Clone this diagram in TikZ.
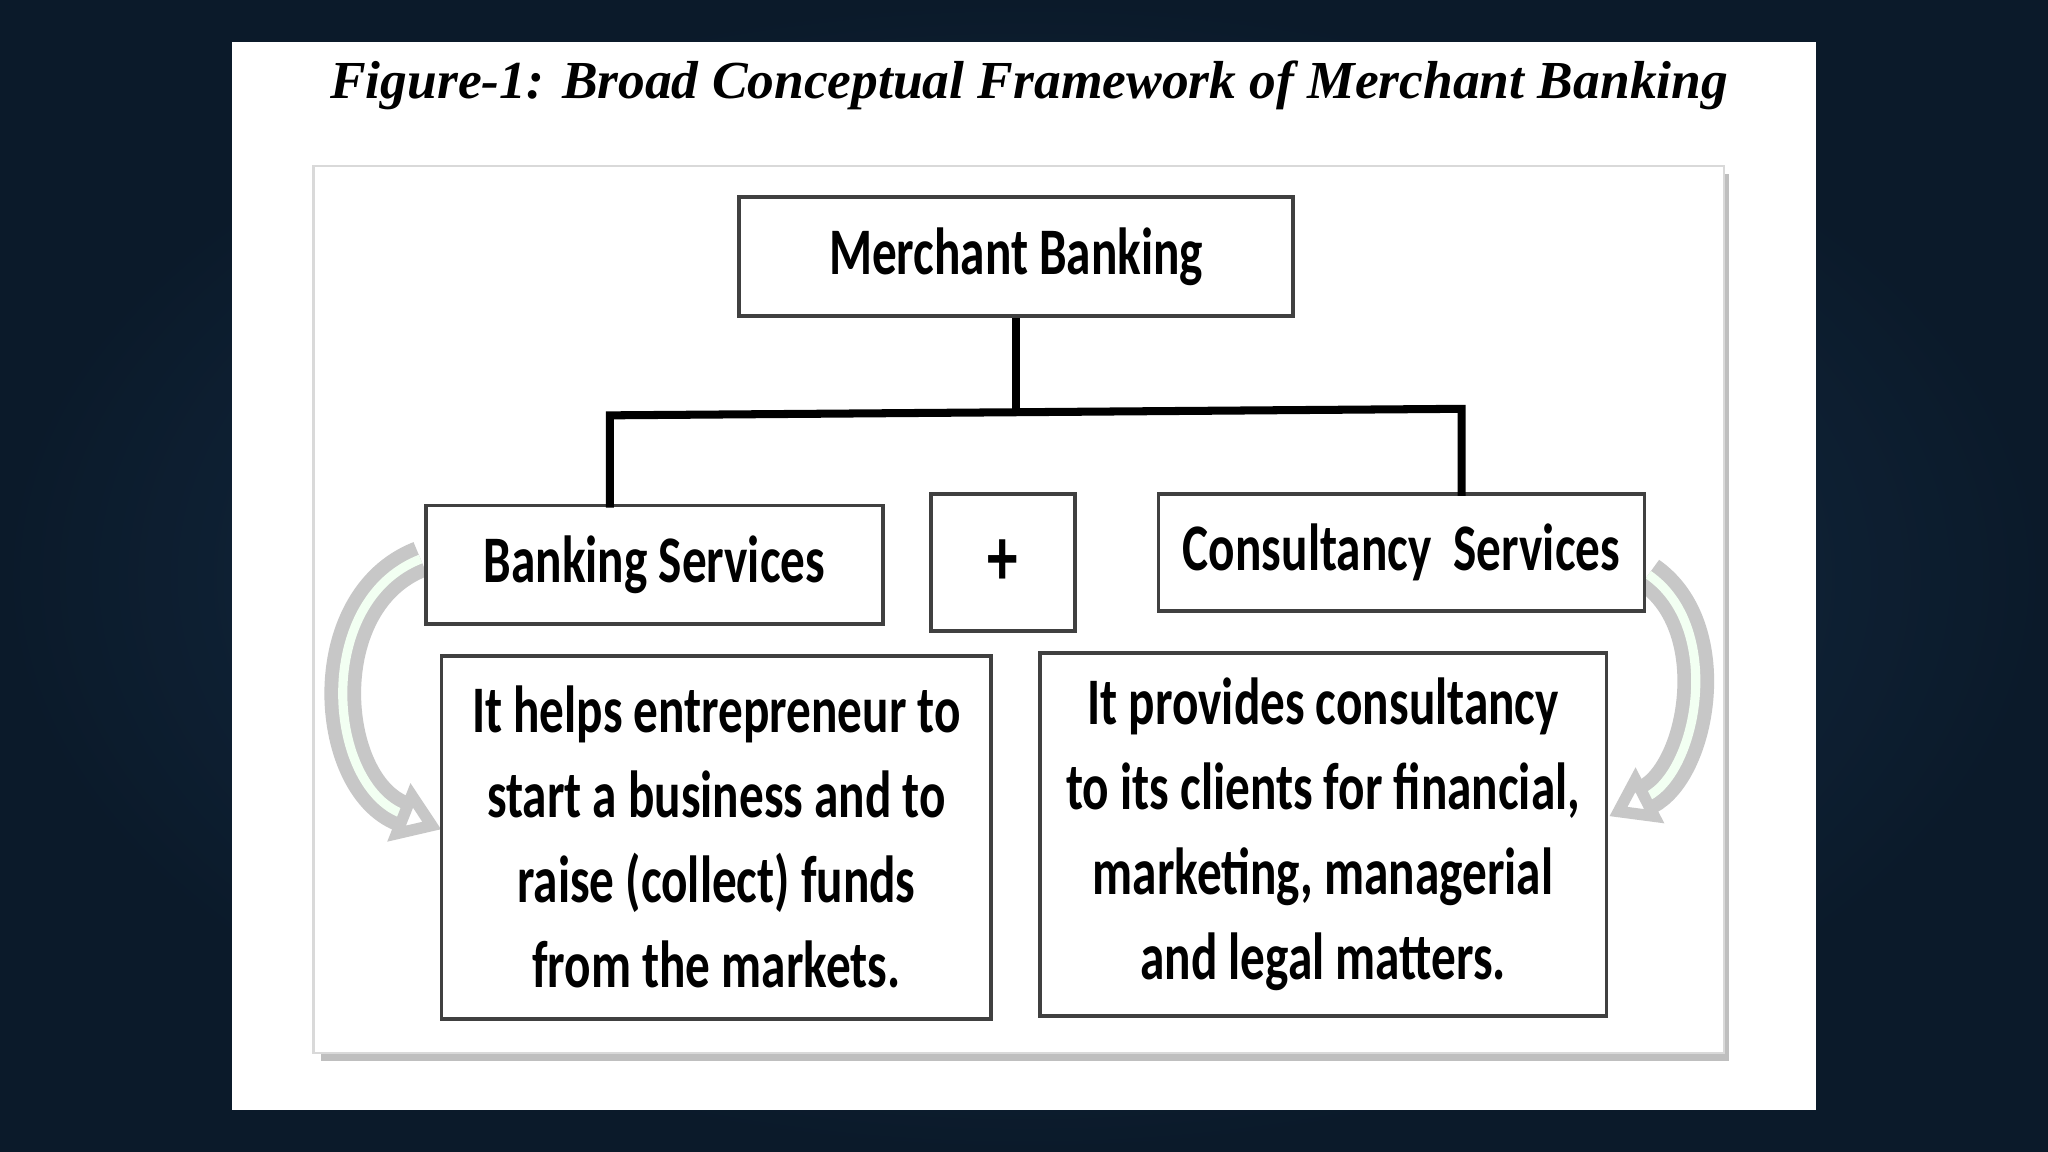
\documentclass[tikz,border=0pt]{standalone}
\usepackage{fontspec}
\setmainfont{Carlito}[FakeStretch=0.74]
\newfontfamily\titlefont{Liberation Serif}
\usetikzlibrary{arrows.meta,shadows}
\definecolor{navy}{HTML}{173451}
\definecolor{navyd}{HTML}{0B1A2A}
\tikzset{
  box/.style={draw=black!75,line width=1.6pt,fill=white,inner sep=0pt},
  conn/.style={line width=3.5pt,black},
  curv/.style={draw=black!22,line width=6pt,-{Triangle[open,length=20pt,width=26pt]},double=green!5,double distance=4pt},
  lbl/.style={font=\fontsize{29}{37}\selectfont\bfseries,align=center}
}
\begin{document}
\begin{tikzpicture}[x=0.02cm,y=-0.02cm]
\useasboundingbox (0,0) rectangle (1568,882);
\shade[inner color=navy,outer color=navyd] (0,0) rectangle (1568,882);
\fill[white] (178,32) rectangle (1390,850);
\node[font=\titlefont\fontsize{23.3}{28}\selectfont\bfseries\itshape] (title) at (788,65) {Figure-1: Broad Conceptual Framework of Merchant Banking};
\fill[black!25] (246,133) rectangle (1324,812);
\draw[black!15,line width=1pt,fill=white] (240,127) rectangle (1320,806);
\draw[curv] (322,428) .. controls (240,460) and (250,600) .. (338,635);
\draw[curv] (1262,440) .. controls (1320,480) and (1300,590) .. (1232,625);
\node[box,minimum width=8.48cm,minimum height=1.82cm,lbl] (mb) at (778,196.5) {Merchant Banking};
\node[box,minimum width=7cm,minimum height=1.82cm,lbl] (bs) at (501,432.5) {Banking Services};
\node[box,minimum width=2.2cm,minimum height=2.1cm,font=\fontsize{36}{40}\selectfont\bfseries,text depth=-8pt] (plus) at (768,430.5) {+};
\node[box,minimum width=7.44cm,minimum height=1.8cm,lbl] (cs) at (1073,423) {Consultancy~ Services};
\node[box,minimum width=8.42cm,minimum height=5.56cm,lbl] (lt) at (548.5,641) {It helps entrepreneur to\\start a business and to\\raise (collect) funds\\from the markets.};
\node[box,minimum width=8.68cm,minimum height=5.56cm,lbl] (rt) at (1013,639) {It provides consultancy\\to its clients for financial,\\marketing, managerial\\and legal matters.};
\coordinate (j) at (778,316);
\coordinate (hl) at (467,318);
\coordinate (hr) at (1119,313);
\draw[conn] (mb.south) -- (j);
\draw[conn,line cap=rect] (hl |- bs.north) -- (hl) -- (hr) -- (hr |- cs.north);
\end{tikzpicture}
\end{document}
